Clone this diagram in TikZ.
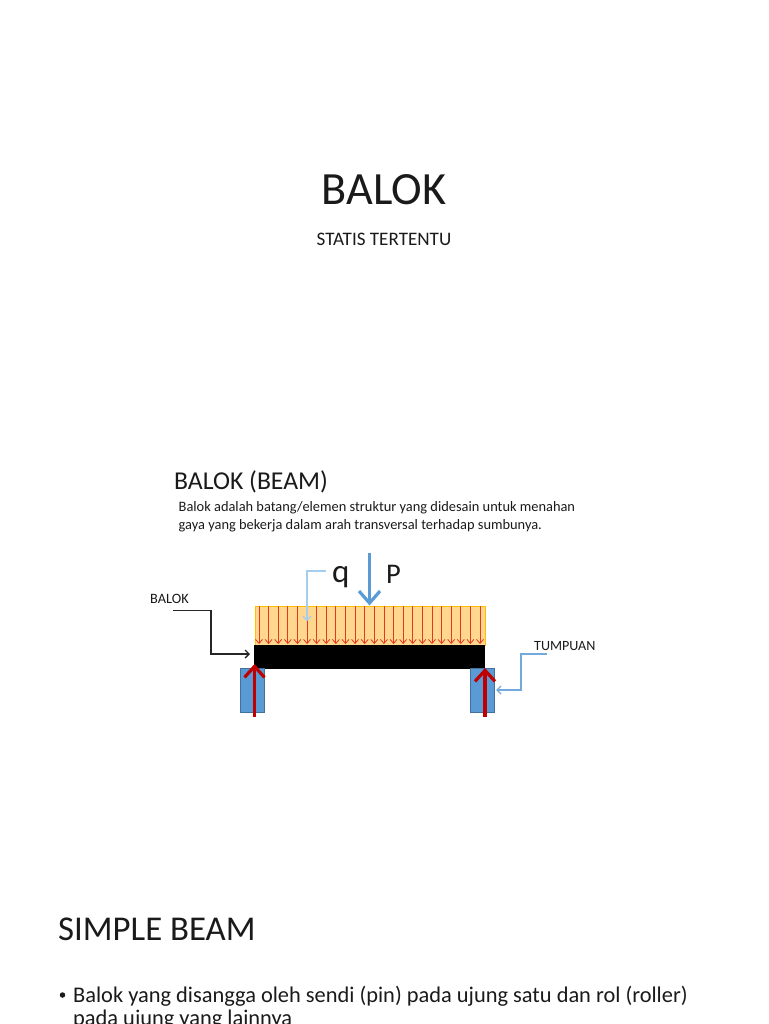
\documentclass[tikz,border=0pt]{standalone}
\usepackage{fontspec}
\setmainfont{Carlito}
\usetikzlibrary{arrows.meta}
\definecolor{supblue}{HTML}{5B9BD5}
\definecolor{supedge}{HTML}{41719C}
\definecolor{qleader}{HTML}{A5CDF0}
\definecolor{loadfill}{HTML}{FFD78F}
\definecolor{loadedge}{HTML}{FFC000}
\definecolor{smallred}{HTML}{E2391F}
\definecolor{txt}{HTML}{1A1A1A}
\tikzset{
 lbl/.style={inner sep=0pt,text=txt,font=#1},
 lft/.style={anchor=base west},
 support/.style={draw=supedge,fill=supblue,line width=.6pt,inner sep=0pt,minimum width=24pt,minimum height=44pt},
 react/.style={draw=red!75!black,line width=3.2pt,-{Straight Barb[length=11pt,width=20pt,line width=3.2pt]}},
 small/.style={draw=smallred,line width=.8pt,-{Straight Barb[length=4pt,width=7pt]}},
 pforce/.style={draw=supblue,line width=3.2pt,-{Straight Barb[length=12pt,width=21pt,line width=3.2pt]}},
 elbow/.style={line width=1.4pt,-{Straight Barb[length=4pt,width=8pt]}}
}
\begin{document}
\begin{tikzpicture}[x=1pt,y=-1pt]
\useasboundingbox (0,0) rectangle (768,1024);
\clip (0,0) rectangle (768,1024);
\node[lbl={\fontsize{46.2}{46}\selectfont}] (title) at (384,190) {BALOK};
\node[lbl={\fontsize{19.1}{20}\selectfont}] (sub) at (384,239) {STATIS TERTENTU};
\node[lbl={\fontsize{25.7}{26}\selectfont},lft] (beamhead) at (174,489) {BALOK (BEAM)};
\node[lbl={\fontsize{14.4}{15}\selectfont},lft] (d1) at (178.5,511) {Balok adalah batang/elemen struktur yang didesain untuk menahan};
\node[lbl={\fontsize{14.4}{15}\selectfont},lft] (d2) at (178.5,529) {gaya yang bekerja dalam arah transversal terhadap sumbunya.};
% load and beam
\node[draw=loadedge,fill=loadfill,line width=.7pt,inner sep=0pt,minimum width=230pt,minimum height=39pt] (load) at (370.5,625.5) {};
\node[fill=black,inner sep=0pt,minimum width=231pt,minimum height=24pt] (beam) at (369.5,656.5) {};
\node[support] (sl) at (252,690) {};
\node[support] (sr) at (482.5,690) {};
\foreach \i in {0,...,23}{
  \pgfmathsetmacro{\xx}{259+9.61*\i}
  \coordinate (at\i) at (\xx,606);
  \coordinate (ab\i) at (\xx,644);
  \draw[small] (at\i) -- (ab\i);
}
% reactions
\coordinate (rl0) at (254.5,716.5); \coordinate (rl1) at (254.5,664);
\coordinate (rr0) at (485,716.5); \coordinate (rr1) at (485,668);
\draw[react] (rl0) -- (rl1);
\draw[react] (rr0) -- (rr1);
% P
\coordinate (p0) at (369.5,553); \coordinate (p1) at (369.5,605.5);
\draw[pforce] (p0) -- (p1);
\node[lbl={\fontsize{33}{33}\selectfont},lft] (q) at (332,582) {q};
\node[lbl={\fontsize{28.5}{28}\selectfont},lft] (P) at (386,583) {P};
% leaders
\coordinate (q0) at (326,571); \coordinate (q1) at (307,621);
\draw[elbow,draw=qleader,line width=1.2pt] (q0) -| (q1);
\node[lbl={\fontsize{14.3}{15}\selectfont},lft] (balok) at (150,603) {BALOK};
\coordinate (b0) at (173,610.5); \coordinate (b1) at (250,654);
\draw[elbow,draw=black!85] (b0) -| (211,654) -- (b1);
\node[lbl={\fontsize{14.1}{15}\selectfont},lft] (tump) at (534,650.5) {TUMPUAN};
\coordinate (t0) at (547,654); \coordinate (t1) at (496,690);
\draw[elbow,draw=supblue!85!white] (t0) -| (521,690) -- (t1);
% simple beam
\node[lbl={\fontsize{34.8}{35}\selectfont},lft] (sb) at (58,940) {SIMPLE BEAM};
\node[circle,fill=txt,inner sep=0pt,minimum size=5.5pt] (bul) at (62.5,995) {};
\node[lbl={\fontsize{22.4}{23}\selectfont},lft] (l1) at (73,1002) {Balok yang disangga oleh sendi (pin) pada ujung satu dan rol (roller)};
\node[lbl={\fontsize{22.4}{23}\selectfont},lft] (l2) at (73,1025) {pada ujung yang lainnya};
\end{tikzpicture}
\end{document}
